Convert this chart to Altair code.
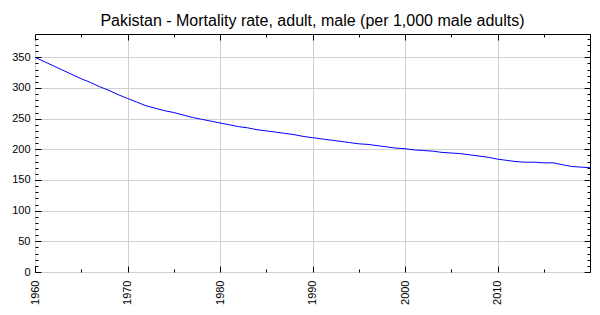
import altair as alt
import pandas as pd

years = list(range(1960, 2021))
values = [350, 343, 336, 329, 322, 315, 309, 302, 296, 289,
          283, 277, 271, 267, 263, 260, 256, 252, 249, 246,
          243, 240, 237, 235, 232, 230, 228, 226, 224, 221,
          219, 217, 215, 213, 211, 209, 208, 206, 204, 202,
          201, 199, 198, 197, 195, 194, 193, 191, 189, 187,
          184, 182, 180, 179, 179, 178, 178, 175, 172, 171,
          170]
x_labels = [1960, 1970, 1980, 1990, 2000, 2010]
x_minor = [1965, 1975, 1985, 1995, 2005, 2015]
y_labels = [0, 50, 100, 150, 200, 250, 300, 350]
y_minor = list(range(0, 390, 10))
title = "Pakistan - Mortality rate, adult, male (per 1,000 male adults)"

df = pd.DataFrame({"year": years, "value": values})

FONT = "Liberation Sans"
xscale = alt.Scale(domain=[1960, 2020], nice=False, zero=False)
yscale = alt.Scale(domain=[0, 388], nice=False)

main = alt.Chart(df).mark_line(color="#0000ff", strokeWidth=1).encode(
    x=alt.X("year:Q", scale=xscale, axis=alt.Axis(
        orient="bottom", values=x_labels, format="d", labelAngle=270,
        labelPadding=8, ticks=False, domain=False, grid=True,
        gridColor="#d0d0d0", gridWidth=1, labelFont=FONT, labelFontSize=11,
        labelColor="black", title=None)),
    y=alt.Y("value:Q", scale=yscale, axis=alt.Axis(
        orient="left", values=y_labels, ticks=False, domain=False, grid=True,
        gridColor="#d0d0d0", gridWidth=1, labelPadding=5, labelFont=FONT,
        labelFontSize=11, labelColor="black", title=None)),
)


def tick_layer(ch, orient, vals, size):
    ax = alt.Axis(orient=orient, values=vals, tickSize=size, offset=-size,
                  labels=False, domain=False, grid=False, ticks=True,
                  tickColor="black", tickWidth=1, title=None)
    if ch == "x":
        enc = dict(x=alt.X("year:Q", scale=xscale, axis=ax),
                   y=alt.Y("value:Q", scale=yscale, axis=None))
    else:
        enc = dict(x=alt.X("year:Q", scale=xscale, axis=None),
                   y=alt.Y("value:Q", scale=yscale, axis=ax))
    return alt.Chart(df).mark_line(opacity=0).encode(**enc)


layers = [main]
for orient in ["bottom", "top"]:
    layers.append(tick_layer("x", orient, x_labels + [2020], 6))
    layers.append(tick_layer("x", orient, x_minor, 3))
for orient in ["left", "right"]:
    layers.append(tick_layer("y", orient, y_labels, 6))
    layers.append(tick_layer("y", orient, y_minor, 3))

chart = alt.layer(*layers).resolve_axis(
    x="independent", y="independent"
).properties(
    width=555, height=238,
    title=alt.TitleParams(title, font=FONT, fontSize=16, fontWeight="normal",
                          color="black", anchor="middle", offset=5),
    autosize=alt.AutoSizeParams(type="none"),
    padding={"left": 35, "top": 34, "right": 10, "bottom": 43},
    background="white",
).configure_view(stroke="black", strokeWidth=1)

chart.save("out.html", embed_options={"renderer": "svg", "actions": False})
